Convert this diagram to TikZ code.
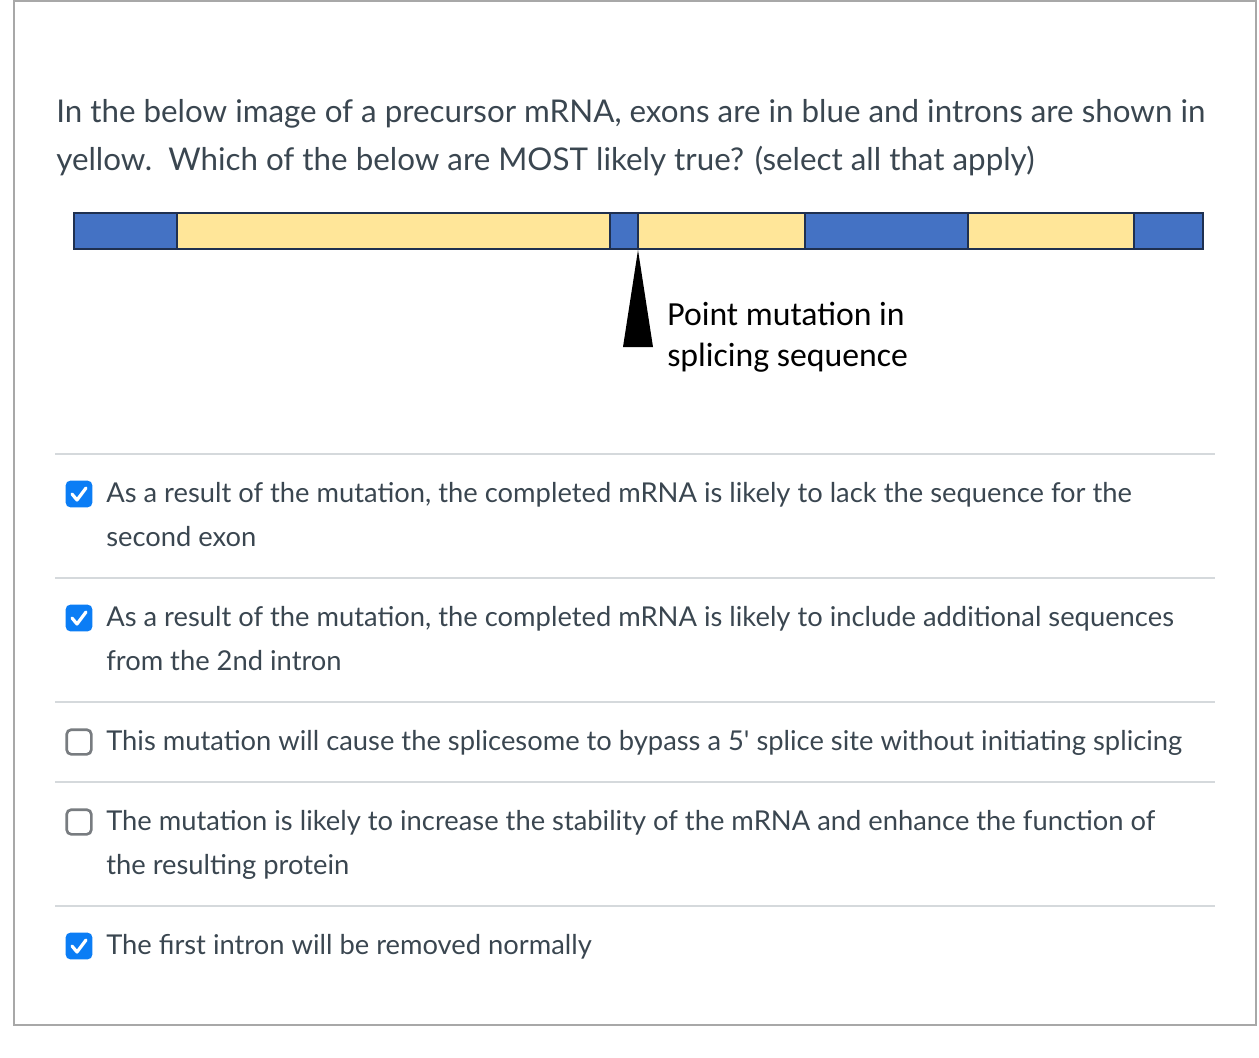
\documentclass[tikz,border=0pt]{standalone}
\usepackage{fontspec}
\setmainfont{Lato}[Ligatures=TeXOff]
\newfontfamily\labelfont{Carlito}
\definecolor{exonblue}{HTML}{4472C4}
\definecolor{intronyellow}{HTML}{FFE699}
\definecolor{barline}{HTML}{1F3050}
\definecolor{textgray}{HTML}{3A4650}
\definecolor{rulegray}{HTML}{D5D9DC}
\definecolor{framegray}{HTML}{A8A8A8}
\definecolor{tickblue}{HTML}{0B7DF5}
\definecolor{boxgray}{HTML}{787C80}

\begin{document}
\begin{tikzpicture}[x=0.75pt,y=-0.75pt,
            exon/.style={fill=exonblue,draw=barline,line width=1.2pt},
            intron/.style={fill=intronyellow,draw=barline,line width=1.2pt},
            question text/.style={anchor=base west,inner sep=0pt,align=left,text=textgray,
              font=\fontsize{23.5}{36}\selectfont},
            answer text/.style={anchor=base west,inner sep=0pt,align=left,text=textgray,
              font=\fontsize{20.5}{33}\selectfont},
            checked box/.style={fill=tickblue,draw=none,rounded corners=3.5pt,
              minimum size=20pt,inner sep=0pt},
            empty box/.style={draw=boxgray,line width=2pt,rounded corners=3.5pt,
              minimum size=18.5pt,inner sep=0pt},
            sep line/.style={draw=rulegray,line width=1.3pt}]

        % Canvas and frame
        \useasboundingbox (0,0) rectangle (1259,1057);
        \draw[framegray,line width=1.6pt] (14,1) rectangle (1256,1025);

        % Question (base = last line)
        \node[question text] (question) at (56,170)
            {In the below image of a precursor mRNA, exons are in blue and introns are shown in\\
             yellow.\ \ Which of the below are MOST likely true? (select all that apply)};

        % Precursor mRNA
        \path[exon]   (74,213)   rectangle (177,249);
        \path[intron] (177,213)  rectangle (610,249);
        \path[exon]   (610,213)  rectangle (638,249);
        \path[intron] (638,213)  rectangle (805,249);
        \path[exon]   (805,213)  rectangle (968,249);
        \path[intron] (968,213)  rectangle (1134,249);
        \path[exon]   (1134,213) rectangle (1203,249);

        % Mutation marker
        \coordinate (mut) at (638,250);
        \fill[black] (mut) -- ([xshift=11.25pt]mut |- 0,347) -- ([xshift=-11.25pt]mut |- 0,347) -- cycle;
        \node[anchor=base west,inner sep=0pt,align=left,
              font=\labelfont\fontsize{25.3}{30.75}\selectfont] (mutlabel) at (667,366)
            {Point mutation in\\splicing sequence};

        % Separators
        \foreach \y in {454,578,702,782,906}
            \draw[sep line] (55,\y) -- (1215,\y);

        % Answers
        \node[checked box] (box1) at (79,494) {};
        \node[answer text] (ans1) at (106,546)
            {As a result of the mutation, the completed mRNA is likely to lack the sequence for the\\second exon};
        \node[checked box] (box2) at (79,618) {};
        \node[answer text] (ans2) at (106,670)
            {As a result of the mutation, the completed mRNA is likely to include additional sequences\\from the 2nd intron};
        \node[empty box] (box3) at (79,742) {};
        \node[answer text] (ans3) at (106,750)
            {This mutation will cause the splicesome to bypass a 5' splice site without initiating splicing};
        \node[empty box] (box4) at (79,822) {};
        \node[answer text] (ans4) at (106,874)
            {The mutation is likely to increase the stability of the mRNA and enhance the function of\\the resulting protein};
        \node[checked box] (box5) at (79,946) {};
        \node[answer text] (ans5) at (106,954)
            {The first intron will be removed normally};

        % Ticks
        \foreach \b in {box1,box2,box5}
            \draw[white,line width=2.4pt,line cap=round,line join=round]
                ([shift={(-7,0)}]\b.center) -- ([shift={(-2,6)}]\b.center) -- ([shift={(7,-6)}]\b.center);

\end{tikzpicture}
\end{document}
